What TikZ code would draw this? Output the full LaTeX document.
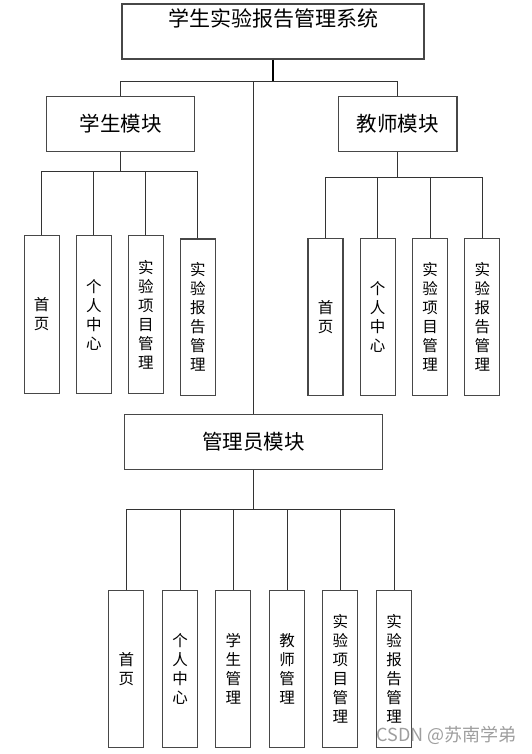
\documentclass[tikz,border=0pt]{standalone}
\usepackage{fontspec}
\setmainfont{Noto Sans CJK SC}
\begin{document}
\begin{tikzpicture}[x=1pt,y=-1pt,
  boxstyle/.style={draw=black!72, line width=1.2pt, inner sep=0pt, fill=white},
  leafbox/.style={boxstyle, minimum width=35pt, align=center,
    font={\fontsize{15.5}{19}\selectfont}},
  conn/.style={draw=black!80, line width=0.9pt},
  thickconn/.style={draw=black, line width=2pt},
  modtext/.style={font={\fontsize{20.5}{24}\selectfont}}]
\useasboundingbox (0,0) rectangle (531,754);

% top system box
\node[boxstyle, minimum width=302pt, minimum height=55pt] (sys) at (273,31.5) {};
\node[font={\fontsize{21}{24}\selectfont}, inner sep=0pt] (systxt) at (273,19) {学生实验报告管理系统};

% module boxes
\node[boxstyle, modtext, minimum width=148pt, minimum height=55.5pt] (stu) at (120.5,124) {学生模块};
\node[boxstyle, modtext, minimum width=118.5pt, minimum height=55pt] (tea) at (397.7,124.2) {教师模块};
\node[boxstyle, modtext, minimum width=258pt, minimum height=55pt] (adm) at (253.6,441.8) {管理员模块};

% junctions
\coordinate (j0) at (273,81);
\coordinate (js) at (120.5,171.3);
\coordinate (jt) at (397.7,177);
\coordinate (ja) at (253.6,509);

\draw[thickconn] (sys.south) -- (j0);
\draw[conn] (stu.north) |- (j0);
\draw[conn] (tea.north) |- (j0);
\draw[conn] (adm.north) -- (adm.north |- j0);

% student leaves
\node[leafbox, minimum height=157.6pt] (s1) at (41.7,314.5) {首\\页};
\node[leafbox, minimum height=157.6pt] (s2) at (93.8,314.5) {个\\人\\中\\心};
\node[leafbox, minimum height=157.6pt] (s3) at (145.8,314.5) {实\\验\\项\\目\\管\\理};
\node[leafbox, minimum height=156.3pt] (s4) at (197.8,317.2) {实\\验\\报\\告\\管\\理};

\draw[conn] (stu.south) -- (js);
\foreach \n in {s1,s2,s3,s4} \draw[conn] (\n.north) |- (js);

% teacher leaves
\node[leafbox, minimum height=157pt] (t1) at (325.5,316.8) {首\\页};
\node[leafbox, minimum height=157pt] (t2) at (377.6,316.8) {个\\人\\中\\心};
\node[leafbox, minimum height=157pt] (t3) at (430,316.8) {实\\验\\项\\目\\管\\理};
\node[leafbox, minimum height=157pt] (t4) at (482.3,316.8) {实\\验\\报\\告\\管\\理};

\draw[conn] (tea.south) -- (jt);
\foreach \n in {t1,t2,t3,t4} \draw[conn] (\n.north) |- (jt);

% admin leaves
\node[leafbox, minimum height=157pt] (a1) at (126.3,668.8) {首\\页};
\node[leafbox, minimum height=157pt] (a2) at (180,668.8) {个\\人\\中\\心};
\node[leafbox, minimum height=157pt] (a3) at (233.3,668.8) {学\\生\\管\\理};
\node[leafbox, minimum height=157pt] (a4) at (287,668.8) {教\\师\\管\\理};
\node[leafbox, minimum height=157pt] (a5) at (340.3,668.8) {实\\验\\项\\目\\管\\理};
\node[leafbox, minimum height=157pt] (a6) at (394,668.8) {实\\验\\报\\告\\管\\理};

\draw[conn] (adm.south) -- (ja);
\foreach \n in {a1,a2,a3,a4,a5,a6} \draw[conn] (\n.north) |- (ja);

% watermark
\node[anchor=east, inner sep=0pt, text=black!38, font={\fontsize{18}{20}\selectfont}] (wm) at (517,735) {CSDN @苏南学弟};
\end{tikzpicture}
\end{document}
